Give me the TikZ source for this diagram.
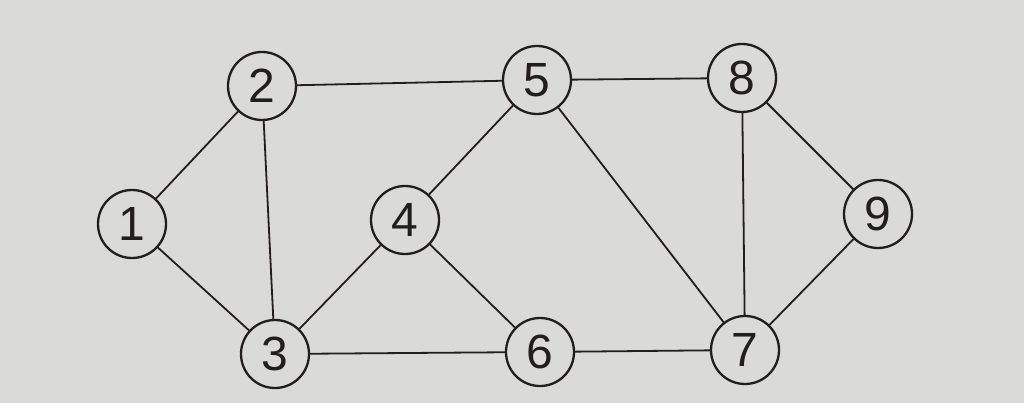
\documentclass[tikz,border=0pt]{standalone}
\usepackage{fontspec}
\setmainfont{Liberation Sans}
\definecolor{paper}{RGB}{218,218,216}
\definecolor{ink}{RGB}{34,30,28}
\begin{document}
\begin{tikzpicture}[x=1pt, y=-1pt,
   every node/.style={draw=ink, circle, line width=2.3pt, minimum size=68pt, inner sep=0pt,
                      font=\fontsize{48}{48}\selectfont, text=ink},
   edge/.style={draw=ink, line width=1.8pt}]

\fill[paper] (0,0) rectangle (1024,403);
\useasboundingbox (0,0) rectangle (1024,403);

% vertices
\node (n1) at (132,224) {1};
\node (n2) at (262,86) {2};
\node (n3) at (275,354) {3};
\node (n4) at (405,220) {4};
\node (n5) at (537,80) {5};
\node (n6) at (540,352) {6};
\node (n7) at (745,350) {7};
\node (n8) at (742,78) {8};
\node (n9) at (878,214) {9};

% edges
\draw[edge] (n1) -- (n2);
\draw[edge] (n1) -- (n3);
\draw[edge] (n2) -- (n3);
\draw[edge] (n2) -- (n5);
\draw[edge] (n5) -- (n8);
\draw[edge] (n5) -- (n4);
\draw[edge] (n5) -- (n7);
\draw[edge] (n4) -- (n3);
\draw[edge] (n4) -- (n6);
\draw[edge] (n3) -- (n6);
\draw[edge] (n6) -- (n7);
\draw[edge] (n8) -- (n7);
\draw[edge] (n8) -- (n9);
\draw[edge] (n9) -- (n7);

\end{tikzpicture}
\end{document}
